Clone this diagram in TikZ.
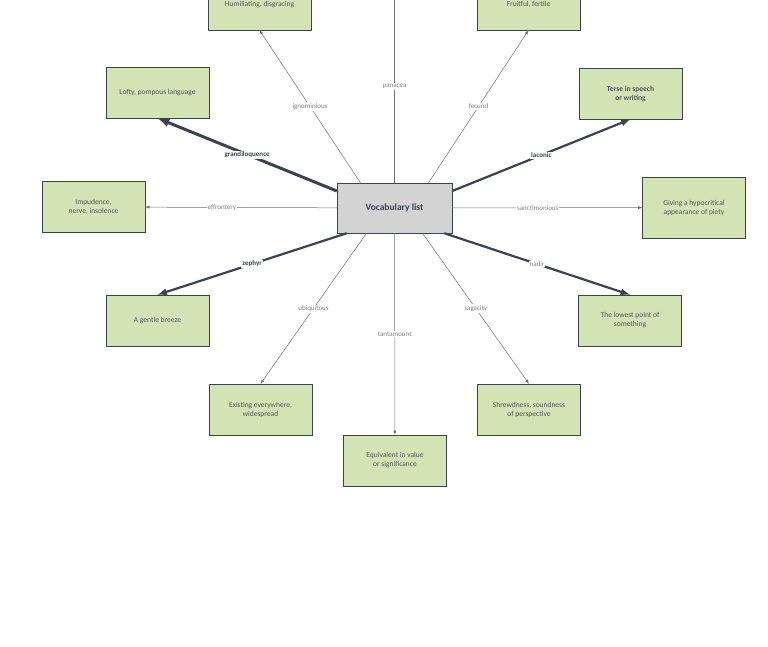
\documentclass[tikz,border=0pt]{standalone}
\usepackage{fontspec}
\setmainfont{Carlito}
\definecolor{boxgreen}{HTML}{D2E3B4}
\definecolor{boxgray}{HTML}{D3D3D3}
\definecolor{darkline}{HTML}{3A4450}
\definecolor{thinline}{HTML}{707070}
\begin{document}
\begin{tikzpicture}[x=1pt,y=-1pt,
    word/.style={draw=darkline, fill=boxgreen, minimum width=103pt, minimum height=51pt,
      align=center, font=\fontsize{7.5}{9}\selectfont, text=darkline!90, inner sep=2pt},
    thin/.style={->, >=latex, draw=thinline, line width=0.5pt},
    thick/.style={->, >=latex, draw=darkline, line width=2.2pt},
    lbl/.style={fill=white, inner sep=1pt, font=\fontsize{7}{8}\selectfont, text=gray},
    blbl/.style={fill=white, inner sep=1pt, font=\bfseries\fontsize{7}{8}\selectfont, text=darkline}]
  \useasboundingbox (0,0) rectangle (768,646);
  \clip (0,0) rectangle (768,646);

  % centre node
  \node[draw=darkline, fill=boxgray, minimum width=115pt, minimum height=50pt,
    font=\bfseries\fontsize{9.5}{11}\selectfont, text=darkline] (vocab) at (394.5,208) {Vocabulary list};

  % meanings
  \node[word] (ignom) at (259.5,4.5) {Humiliating, disgracing};
  \node[word] (fecund) at (528.5,4.5) {Fruitful, fertile};
  \coordinate (panacea) at (394.5,-10);
  \node[word] (grand) at (157.5,92.5) {Lofty, pompous language};
  \node[word] (laconic) at (630.5,93.5) {\bfseries Terse in speech\\\bfseries or writing};
  \node[word] (effront) at (93.5,207) {Impudence,\\nerve, insolence};
  \node[word, minimum height=61pt] (sanct) at (694,207.5) {Giving a hypocritical\\appearance of piety};
  \node[word] (zephyr) at (157.5,320.5) {A gentle breeze};
  \node[word] (nadir) at (630,320.5) {The lowest point of\\something};
  \node[word] (ubiq) at (260.5,409.5) {Existing everywhere,\\widespread};
  \node[word] (sagac) at (529,409.5) {Shrewdness, soundness\\of perspective};
  \node[word] (tant) at (395,460.5) {Equivalent in value\\or significance};

  % start points on the centre box
  \coordinate (s1) at ([xshift=-34pt]vocab.north);
  \coordinate (s2) at ([xshift=34pt]vocab.north);
  \coordinate (s3) at ([xshift=-28pt]vocab.south);
  \coordinate (s4) at ([xshift=28pt]vocab.south);

  % connectors
  \draw[thin] (s1) -- node[lbl, pos=0.5] {ignominious} (ignom.south);
  \draw[thin] (s2) -- node[lbl, pos=0.5] {fecund} (fecund.south);
  \draw[thin] (vocab.north) -- node[lbl, pos=0.5] {panacea} (panacea);
  \draw[thick, line width=3pt] ([yshift=17pt]vocab.west) -- node[blbl, pos=0.5] {grandiloquence} (grand.south);
  \draw[thick] ([yshift=17pt]vocab.east) -- node[blbl, pos=0.5] {laconic} (laconic.south);
  \draw[thin] (vocab) -- node[lbl, pos=0.6] {effrontery} (effront);
  \draw[thin] (vocab) -- node[lbl, pos=0.45] {sanctimonious} (sanct);
  \draw[thick] ([xshift=10pt]vocab.south west) -- node[blbl, pos=0.5] {zephyr} (zephyr.north);
  \draw[thick] ([xshift=-8pt]vocab.south east) -- node[lbl, pos=0.5] {nadir} (nadir.north);
  \draw[thin] (s3) -- node[lbl, pos=0.5] {ubiquitous} (ubiq.north);
  \draw[thin] (s4) -- node[lbl, pos=0.5] {sagacity} (sagac.north);
  \draw[thin] (vocab) -- node[lbl, pos=0.5] {tantamount} (tant);
\end{tikzpicture}
\end{document}
